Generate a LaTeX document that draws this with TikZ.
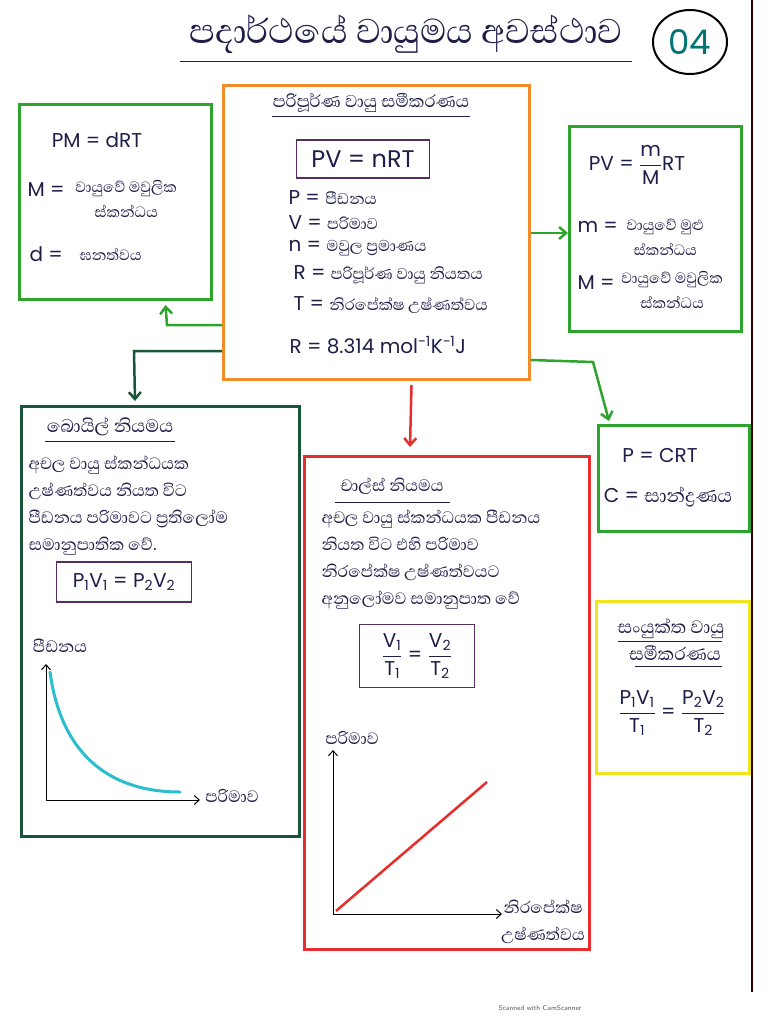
\documentclass[tikz,border=0pt]{standalone}
\usepackage{fontspec}
\usepackage{amsmath}
\setmainfont{Poppins}
\newfontfamily\sifont[Script=Sinhala]{Abhaya Libre}
\usetikzlibrary{arrows.meta, positioning, calc, shapes.geometric}

\definecolor{ink}{RGB}{30,30,75}
\definecolor{boxorange}{RGB}{242,140,40}
\definecolor{boxgreen}{RGB}{45,165,45}
\definecolor{boxdark}{RGB}{25,85,55}
\definecolor{boxred}{RGB}{232,45,45}
\definecolor{boxyellow}{RGB}{240,228,30}
\definecolor{eqframe}{RGB}{85,45,95}
\definecolor{curvecyan}{RGB}{45,190,205}
\definecolor{numteal}{RGB}{0,115,115}

\newcommand\si[1]{{\sifont #1}}
\newcommand\fr[2]{$\dfrac{\text{#1}}{\text{#2}}$}

\begin{document}
\begin{tikzpicture}[
    x=1pt, y=-1pt,
    box/.style={draw=#1, line width=3pt, anchor=north west, inner sep=0pt},
    eqbox/.style={draw=eqframe, line width=1.3pt, text=ink, font=\fontsize{20}{24}\selectfont},
    eq/.style={text=ink, font=\fontsize{20}{24}\selectfont},
    si/.style={text=ink, font=\fontsize{21}{27}\selectfont\sifont},
    sism/.style={text=ink, font=\fontsize{19}{25}\selectfont\sifont, align=center, anchor=north west, inner sep=1pt},
    head/.style={text=ink, font=\fontsize{21}{25}\selectfont\sifont},
    uline/.style={draw=ink, line width=1pt},
    garrow/.style={draw=boxgreen, line width=2.5pt, -{Straight Barb[length=7pt,width=12pt]}},
    axis/.style={draw=black, line width=1pt, -{Straight Barb[length=5pt,width=9pt]}}
]
    \useasboundingbox[fill=white] (0,0) rectangle (768,1024);
    \draw[line width=2pt, black!80!red] (752,0) -- (752,992);

    % title
    \node[text=ink, font=\fontsize{44}{50}\selectfont\sifont] (title) at (406,34) {පදාර්ථයේ වායුමය අවස්ථාව};
    \draw[uline] (180,62) -- (632,62);
    \node[draw, ellipse, line width=2pt, minimum width=74pt, minimum height=64pt, text=numteal,
          font=\fontsize{34}{40}\selectfont] (num) at (690,42) {04};

    % ideal gas equation
    \node[box=boxorange, minimum width=306pt, minimum height=294pt] (ideal) at (222,84) {};
    \node[head, font=\fontsize{22}{26}\selectfont\sifont] (ihead) at (371,103) {පරිපූර්ණ වායු සමීකරණය};
    \draw[uline] (272,117) -- (470,117);
    \node[eqbox, minimum width=133pt, minimum height=38pt, font=\fontsize{24}{28}\selectfont] (pvnrt) at (363,159) {PV = nRT};
    \node[eq, anchor=west] (defp) at (285,198) {P = \si{පීඩනය}};
    \node[eq, anchor=west] (defv) at (285,223) {V = \si{පරිමාව}};
    \node[eq, anchor=west] (defn) at (285,248) {n = \si{මවුල ප්‍රමාණය}};
    \node[eq, anchor=west] (defr) at (290,275) {R = \si{පරිපූර්ණ වායු නියතය}};
    \node[eq, anchor=west] (deft) at (290,305) {T = \si{නිරපේක්ෂ උෂ්ණත්වය}};
    \node[eq, anchor=west] (rval) at (286,345) {R = 8.314 mol\textsuperscript{−1}K\textsuperscript{−1}J};

    % density form
    \node[box=boxgreen, minimum width=192pt, minimum height=195pt] (dens) at (18,103) {};
    \node[eq] (pmd) at (97,140) {PM = dRT};
    \node[eq, anchor=west] (dm) at (24,190) {M =};
    \node[sism] (dmt) at ([xshift=6pt]dm.north east) {වායුවේ මවුලික\\ස්කන්ධය};
    \node[eq, anchor=west] (dd) at (26,254) {d =};
    \node[sism, anchor=west] (ddt) at ([xshift=12pt]dd.east) {ඝනත්වය};

    % mass form
    \node[box=boxgreen, minimum width=172pt, minimum height=205pt] (mass) at (568,125) {};
    \node[eq] (pvm) at (637,165) {PV = \fr{m}{M}RT};
    \node[eq, anchor=west] (mm) at (574,227) {m =};
    \node[sism] (mmt) at ([xshift=4pt]mm.north east) {වායුවේ මුළු\\ස්කන්ධය};
    \node[eq, anchor=west] (mmm) at (574,283) {M =};
    \node[sism] (mmmt) at ([xshift=2pt,yshift=2pt]mmm.north east) {වායුවේ මවුලික\\ස්කන්ධය};

    % concentration form
    \node[box=boxgreen, minimum width=151pt, minimum height=106pt] (conc) at (597,424) {};
    \node[eq] (pcrt) at (660,455) {P = CRT};
    \node[eq] (cdef) at (668,497) {C = \si{\fontsize{24}{28}\selectfont සාන්ද්‍රණය}};

    % combined gas equation
    \node[box=boxyellow, minimum width=153pt, minimum height=172pt] (comb) at (595,600) {};
    \node[head, font=\fontsize{23}{27}\selectfont\sifont] (chead1) at (671,629) {සංයුක්ත වායු};
    \draw[uline] (618,641) -- (722,641);
    \node[head, font=\fontsize{23}{27}\selectfont\sifont] (chead2) at (675,653) {සමීකරණය};
    \draw[uline] (635,666) -- (722,666);
    \node[eq] (ceq) at (672,713) {\fr{P\textsubscript{1}V\textsubscript{1}}{T\textsubscript{1}} = \fr{P\textsubscript{2}V\textsubscript{2}}{T\textsubscript{2}}};

    % Boyle's law
    \node[box=boxdark, minimum width=278pt, minimum height=430pt] (boyle) at (20,405) {};
    \node[head, font=\fontsize{23}{27}\selectfont\sifont] (bhead) at (110,427) {බොයිල් නියමය};
    \draw[uline] (45,441) -- (175,441);
    \node[si, align=left, anchor=north west] (btext) at (25,452) {අචල වායු ස්කන්ධයක\\උෂ්ණත්වය නියත විට\\පීඩනය පරිමාවට ප්‍රතිලෝම\\සමානුපාතික වේ.};
    \node[eqbox, minimum width=135pt, minimum height=40pt] (beq) at (124,582) {P\textsubscript{1}V\textsubscript{1} = P\textsubscript{2}V\textsubscript{2}};
    \coordinate (bo) at (46,800);
    \coordinate (bx) at (200,800);
    \coordinate (by) at (46,664);
    \draw[axis] (bo) -- (bx);
    \draw[axis] (bo) -- (by);
    \node[si] (bylab) at (60,646) {පීඩනය};
    \node[si] (bxlab) at (232,796) {පරිමාව};
    \draw[curvecyan, line width=3pt, line cap=round] (50,672) .. controls (62,760) and (115,792) .. (180,792);

    % Charles' law
    \node[box=boxred, minimum width=285pt, minimum height=493pt] (charles) at (303,455) {};
    \node[head] (chhead) at (392,486) {චාල්ස් නියමය};
    \draw[uline] (335,502) -- (450,502);
    \node[si, align=left, anchor=north west] (chtext) at (318,506) {අචල වායු ස්කන්ධයක පීඩනය\\නියත විට එහි පරිමාව\\නිරපේක්ෂ උෂ්ණත්වයට\\අනුලෝමව සමානුපාත වේ};
    \node[eqbox, minimum width=115pt, minimum height=63pt] (cheq) at (417,656) {\fr{V\textsubscript{1}}{T\textsubscript{1}} = \fr{V\textsubscript{2}}{T\textsubscript{2}}};
    \coordinate (co) at (333,914);
    \coordinate (cx) at (502,914);
    \coordinate (cy) at (333,750);
    \draw[axis] (co) -- (cx);
    \draw[axis] (co) -- (cy);
    \node[si] (cylab) at (352,738) {පරිමාව};
    \node[si, align=center] (cxlab) at (543,922) {නිරපේක්ෂ\\උෂ්ණත්වය};
    \draw[boxred, line width=2.5pt] (336,911) -- (487,782);

    % connectors
    \draw[garrow] ([yshift=-241pt]ideal.north west) -- ++(-55,0) -- ([xshift=50pt,yshift=-4pt]dens.south);
    \draw[garrow, draw=boxdark] ([yshift=-267pt]ideal.north west) -- ++(-88,0) -- ([xshift=115pt,yshift=4pt]boyle.north west);
    \draw[garrow] ([yshift=-149pt]ideal.north east) -- ([yshift=-108pt]mass.north west);
    \draw[garrow] ([yshift=-276pt]ideal.north east) -- ++(62,2) -- ([xshift=12pt,yshift=3pt]conc.north west);
    \draw[garrow, draw=boxred] ([xshift=35pt,yshift=-4pt]ideal.south) -- ([xshift=107pt,yshift=8pt]charles.north west);

    \node[font=\fontsize{7}{8}\selectfont\sffamily, text=gray!70!black] (scan) at (540,1008) {Scanned with CamScanner};
\end{tikzpicture}
\end{document}
